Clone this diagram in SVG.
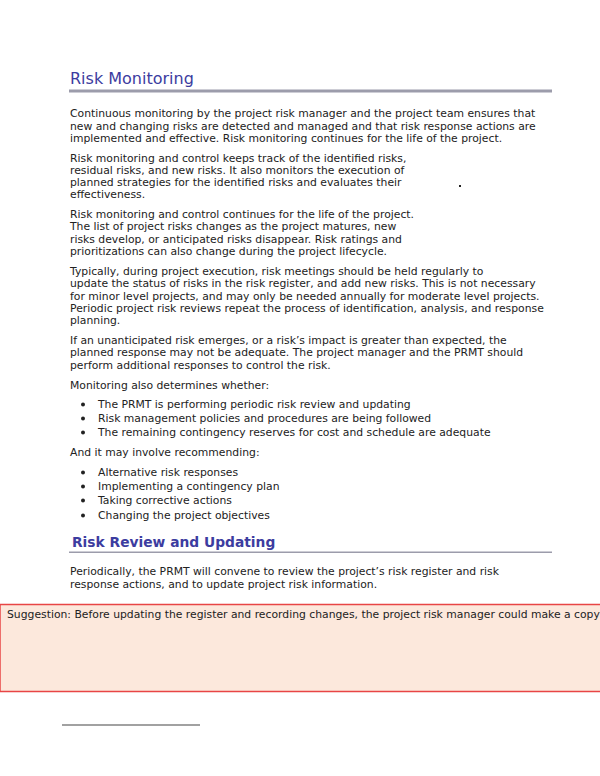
<svg xmlns="http://www.w3.org/2000/svg" width="600" height="776" viewBox="0 0 600 776">
<style>
.t{font-family:"DejaVu Sans",sans-serif;font-size:10.8px;fill:#222;white-space:pre}
.h1{font-family:"DejaVu Sans",sans-serif;font-size:16px;fill:#3c3ca0}
.h2{font-family:"DejaVu Sans",sans-serif;font-size:13.8px;font-weight:bold;fill:#3c3ca0}
</style>
<rect width="600" height="776" fill="#fff"/>
<text class="h1" x="70" y="84">Risk Monitoring</text>
<rect x="69" y="89.5" width="483" height="3" fill="#9c9cab"/>
<g class="t">
<text x="70" y="117">Continuous monitoring by the project risk manager and the project team ensures that</text>
<text x="70" y="130">new and changing risks are detected and managed and that risk response actions are</text>
<text x="70" y="142">implemented and effective.  Risk monitoring continues for the life of the project.</text>
<text x="70" y="162">Risk monitoring and control keeps track of the identified risks,</text>
<text x="70" y="174">residual risks, and new risks.  It also monitors the execution of</text>
<text x="70" y="186">planned strategies for the identified risks and evaluates their</text>
<text x="70" y="198">effectiveness.</text>
<text x="70" y="218">Risk monitoring and control continues for the life of the project.</text>
<text x="70" y="230">The list of project risks changes as the project matures, new</text>
<text x="70" y="243">risks develop, or anticipated risks disappear.  Risk ratings and</text>
<text x="70" y="255">prioritizations can also change during the project lifecycle.</text>
<text x="70" y="275">Typically, during project execution, risk meetings should be held regularly to</text>
<text x="70" y="287">update the status of risks in the risk register, and add new risks.  This is not necessary</text>
<text x="70" y="300">for minor level projects, and may only be needed annually for moderate level projects.</text>
<text x="70" y="312">Periodic project risk reviews repeat the process of identification, analysis, and response</text>
<text x="70" y="324">planning.</text>
<text x="70" y="344">If an unanticipated risk emerges, or a risk’s impact is greater than expected, the</text>
<text x="70" y="356">planned response may not be adequate.  The project manager and the PRMT should</text>
<text x="70" y="369">perform additional responses to control the risk.</text>
<text x="70" y="389">Monitoring also determines whether:</text>
<text x="98" y="408">The PRMT is performing periodic risk review and updating</text>
<text x="98" y="422">Risk management policies and procedures are being followed</text>
<text x="98" y="436">The remaining contingency reserves for cost and schedule are adequate</text>
<text x="70" y="456">And it may involve recommending:</text>
<text x="98" y="476">Alternative risk responses</text>
<text x="98" y="490">Implementing a contingency plan</text>
<text x="98" y="504">Taking corrective actions</text>
<text x="98" y="519">Changing the project objectives</text>
<text x="70" y="575">Periodically, the PRMT will convene to review the project’s risk register and risk</text>
<text x="70" y="588">response actions, and to update project risk information.</text>
</g>
<g fill="#222">
<circle cx="83" cy="404.5" r="2"/><circle cx="83" cy="418.5" r="2"/><circle cx="83" cy="432.5" r="2"/>
<circle cx="83" cy="472.5" r="2"/><circle cx="83" cy="486.5" r="2"/><circle cx="83" cy="500.5" r="2"/><circle cx="83" cy="515.5" r="2"/>
<rect x="459" y="185" width="2" height="2"/>
</g>
<text class="h2" x="72" y="547">Risk Review and Updating</text>
<rect x="69" y="551.5" width="483" height="1.5" fill="#9c9cab"/>
<rect x="0" y="604.5" width="602" height="87" fill="#fce8dc" stroke="#e84545" stroke-width="1.5"/>
<text class="t" x="7" y="618">Suggestion: Before updating the register and recording changes, the project risk manager could make a copy</text>
<rect x="62" y="724.5" width="138" height="1" fill="#444"/>
</svg>
